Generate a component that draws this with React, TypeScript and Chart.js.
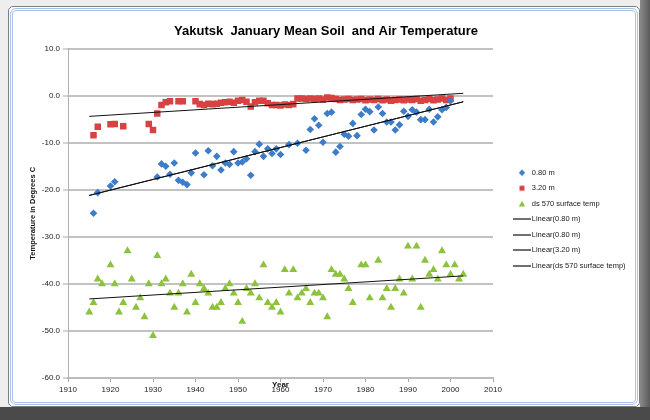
import React, { useEffect, useRef } from "react";
import { Chart, registerables } from "chart.js";

Chart.register(...registerables);

const TITLE = "Yakutsk  January Mean Soil  and Air Temperature";
const X_TITLE = "Year";
const Y_TITLE = "Temperature in Degrees C";
const SERIES_NAMES = ["0.80 m", "3.20 m", "ds 570 surface temp"];
const TREND_NAMES = ["Linear(0.80 m)", "Linear(0.80 m)", "Linear(3.20 m)", "Linear(ds 570 surface temp)"];

const X_MIN = 1910;
const X_MAX = 2010;
const X_STEP = 10;
const Y_MIN = -60;
const Y_MAX = 10;
const Y_STEP = 10;

const years080 = [1916, 1917, 1920, 1921, 1931, 1932, 1933, 1934, 1935, 1936, 1937, 1938, 1939, 1940, 1942, 1943, 1944, 1945, 1946, 1947, 1948, 1949, 1950, 1951, 1952, 1953, 1954, 1955, 1956, 1957, 1958, 1959, 1960, 1962, 1964, 1966, 1967, 1968, 1969, 1970, 1971, 1972, 1973, 1974, 1975, 1976, 1977, 1978, 1979, 1980, 1981, 1982, 1983, 1984, 1985, 1986, 1987, 1988, 1989, 1990, 1991, 1992, 1993, 1994, 1995, 1996, 1997, 1998, 1999, 2000];
const temp080 = [-25.0, -20.6, -19.2, -18.3, -17.3, -14.5, -15.0, -16.7, -14.3, -18.0, -18.4, -18.9, -16.4, -12.2, -16.8, -11.7, -14.9, -12.9, -15.8, -14.3, -14.6, -11.9, -14.3, -14.1, -13.4, -16.9, -11.9, -10.3, -12.9, -11.3, -12.3, -11.3, -12.5, -10.4, -10.1, -11.6, -7.2, -4.9, -6.3, -9.9, -3.8, -3.5, -12.0, -10.8, -8.2, -8.6, -5.9, -8.5, -4.0, -2.9, -3.4, -7.3, -2.4, -3.8, -5.6, -5.6, -7.3, -6.2, -3.3, -4.4, -3.0, -3.5, -5.1, -5.1, -2.9, -5.6, -4.5, -3.0, -2.5, -1.1];

const years320 = [1916, 1917, 1920, 1921, 1923, 1929, 1930, 1931, 1932, 1933, 1934, 1936, 1937, 1940, 1941, 1942, 1943, 1944, 1945, 1946, 1947, 1948, 1949, 1950, 1951, 1952, 1953, 1954, 1955, 1956, 1957, 1958, 1959, 1960, 1961, 1962, 1963, 1964, 1965, 1966, 1967, 1968, 1969, 1970, 1971, 1972, 1973, 1974, 1975, 1976, 1977, 1978, 1979, 1980, 1981, 1982, 1983, 1984, 1985, 1986, 1987, 1988, 1989, 1990, 1991, 1992, 1993, 1994, 1995, 1996, 1997, 1998, 1999, 2000];
const temp320 = [-8.4, -6.6, -6.1, -6.0, -6.5, -6.0, -7.3, -3.8, -2.0, -1.4, -1.2, -1.2, -1.2, -1.2, -1.8, -2.0, -1.7, -1.8, -1.7, -1.5, -1.4, -1.3, -1.5, -1.1, -0.9, -1.3, -2.3, -1.4, -1.1, -1.1, -1.6, -2.0, -2.0, -2.1, -1.9, -2.0, -1.8, -0.6, -0.6, -0.7, -0.6, -0.7, -0.6, -0.8, -0.4, -0.5, -0.7, -0.9, -0.8, -0.7, -0.9, -0.8, -0.7, -1.0, -0.8, -0.9, -0.7, -1.0, -0.8, -1.1, -0.9, -0.8, -1.0, -0.8, -0.9, -0.7, -1.1, -0.9, -0.7, -1.0, -0.8, -0.6, -0.9, -0.6];

const yearsSurf = [1915, 1916, 1917, 1918, 1920, 1921, 1922, 1923, 1924, 1925, 1926, 1927, 1928, 1929, 1930, 1931, 1932, 1933, 1934, 1935, 1936, 1937, 1938, 1939, 1940, 1941, 1942, 1943, 1944, 1945, 1946, 1947, 1948, 1949, 1950, 1951, 1952, 1953, 1954, 1955, 1956, 1957, 1958, 1959, 1960, 1961, 1962, 1963, 1964, 1965, 1966, 1967, 1968, 1969, 1970, 1971, 1972, 1973, 1974, 1975, 1976, 1977, 1979, 1980, 1981, 1983, 1984, 1985, 1986, 1987, 1988, 1989, 1990, 1991, 1992, 1993, 1994, 1995, 1996, 1997, 1998, 1999, 2000, 2001, 2002, 2003];
const tempSurf = [-46, -44, -39, -40, -36, -40, -46, -44, -33, -39, -45, -43, -47, -40, -51, -34, -40, -39, -42, -45, -42, -40, -46, -38, -44, -40, -41, -42, -45, -45, -44, -41, -40, -42, -44, -48, -41, -42, -40, -43, -36, -44, -45, -44, -46, -37, -42, -37, -43, -42, -41, -44, -42, -42, -43, -47, -37, -38, -38, -39, -41, -44, -36, -36, -43, -35, -43, -41, -45, -41, -39, -42, -32, -39, -32, -45, -35, -38, -37, -39, -33, -36, -38, -36, -39, -38];

// Trendline end points
const trendYears = [1915, 2003];
const trend080 = [-21.2, -1.3];
const trend320 = [-4.4, 0.5];
const trendSurf = [-43.2, -38.3];

const BLUE = "#3d7cc9";
const RED = "#d94242";
const GREEN = "#8cc23e";
const FONT = "'Liberation Sans', Arial, sans-serif";

const PLOT_LEFT = 68;
const PLOT_RIGHT = 493;
const X_AXIS_BOX = 42;
const LEGEND_LEFT = 508;
const LEGEND_TOP = 161;
const TITLE_CENTER = 326;

function icon(kind: string, color: string): HTMLCanvasElement {
  const c = document.createElement("canvas");
  const g = c.getContext("2d") as CanvasRenderingContext2D;
  if (kind === "line") {
    c.width = 18;
    c.height = 2;
    g.fillStyle = color;
    g.fillRect(0, 0, 18, 2);
    return c;
  }
  c.width = 8;
  c.height = 8;
  g.fillStyle = color;
  g.beginPath();
  if (kind === "diamond") {
    g.moveTo(4, 0.8);
    g.lineTo(7.2, 4);
    g.lineTo(4, 7.2);
    g.lineTo(0.8, 4);
  } else if (kind === "square") {
    g.rect(1.5, 1.5, 5, 5);
  } else {
    g.moveTo(4, 1);
    g.lineTo(7.2, 6.8);
    g.lineTo(0.8, 6.8);
  }
  g.closePath();
  g.fill();
  return c;
}

const pts = (xs: number[], ys: number[]) => xs.map((x, i) => ({ x, y: ys[i] }));

export default function App() {
  const ref = useRef<HTMLCanvasElement | null>(null);

  useEffect(() => {
    if (!ref.current) return;
    const trend = (label: string, ys: number[]) => ({
      type: "line" as const,
      label,
      data: pts(trendYears, ys),
      borderColor: "#111",
      borderWidth: 1,
      pointRadius: 0,
      showLine: true,
      fill: false,
    });
    const legendIcons = [
      icon("diamond", BLUE),
      icon("square", RED),
      icon("triangle", GREEN),
      icon("line", "#707070"),
    ];
    const boxShift = {
      id: "boxShift",
      afterLayout(chart: any) {
        const lg = chart.legend;
        if (lg) {
          const w = lg.width;
          lg.left = LEGEND_LEFT;
          lg.right = LEGEND_LEFT + w;
          lg.top = LEGEND_TOP;
          lg.bottom = 420;
        }
        const tb = chart.titleBlock;
        if (tb) {
          const half = 300;
          tb.left = TITLE_CENTER - half;
          tb.right = TITLE_CENTER + half;
          tb.width = half * 2;
        }
      },
    };
    const options: any = {
      responsive: false,
      animation: false,
      events: [],
      layout: { padding: { top: 0, left: 0, right: 40, bottom: 0 } },
      plugins: {
        tooltip: { enabled: false },
        title: {
          display: true,
          text: TITLE,
          color: "#000",
          font: { family: FONT, size: 13, weight: "bold" },
          padding: { top: 24, bottom: 9 },
        },
        legend: {
          display: true,
          position: "right",
          align: "start",
          labels: {
            usePointStyle: true,
            pointStyleWidth: 12,
            boxHeight: 7.5,
            padding: 8,
            color: "#1a1a1a",
            font: { family: FONT, size: 7.5 },
            generateLabels: () => {
              const names = [...SERIES_NAMES, ...TREND_NAMES];
              return names.map((text, i) => ({
                text,
                pointStyle: legendIcons[Math.min(i, 3)],
                fillStyle: "#000",
                strokeStyle: "#000",
                lineWidth: 0,
                hidden: false,
                fontColor: "#1a1a1a",
                datasetIndex: i,
              }));
            },
          },
        },
      },
      scales: {
        x: {
          type: "linear",
          min: X_MIN,
          max: X_MAX,
          afterFit: (s: any) => {
            s.height = X_AXIS_BOX;
          },
          ticks: {
            stepSize: X_STEP,
            autoSkip: false,
            maxRotation: 0,
            padding: 3,
            color: "#222",
            font: { family: FONT, size: 8 },
            callback: (v: any) => String(v),
          },
          grid: {
            display: true,
            drawOnChartArea: false,
            drawTicks: true,
            tickLength: 4,
            color: "#a8a8a8",
          },
          border: { display: true, color: "#bcbcbc", width: 2 },
          title: {
            display: true,
            text: X_TITLE,
            color: "#111",
            font: { family: FONT, size: 8, weight: "bold" },
            padding: { top: 0, bottom: 30 },
          },
        },
        y: {
          type: "linear",
          min: Y_MIN,
          max: Y_MAX,
          afterFit: (s: any) => {
            s.width = PLOT_LEFT;
          },
          ticks: {
            stepSize: Y_STEP,
            padding: 3,
            color: "#222",
            font: { family: FONT, size: 8 },
            callback: (v: any) => Number(v).toFixed(1),
          },
          grid: {
            color: "#c2c2c2",
            lineWidth: 2,
            tickLength: 5,
            tickColor: "#a8a8a8",
            tickWidth: 1,
          },
          border: { display: true, color: "#b0b0b0", width: 1 },
          title: {
            display: true,
            text: Y_TITLE,
            color: "#111",
            font: { family: FONT, size: 7.5, weight: "bold" },
            padding: { top: 28, bottom: 0 },
          },
        },
      },
    };
    const chart = new Chart(ref.current, {
      type: "scatter",
      data: {
        datasets: [
          trend(TREND_NAMES[0], trend080),
          trend(TREND_NAMES[1], trend080),
          trend(TREND_NAMES[2], trend320),
          trend(TREND_NAMES[3], trendSurf),
          {
            label: SERIES_NAMES[0],
            data: pts(years080, temp080),
            pointStyle: "rectRot",
            pointRadius: 3.8,
            backgroundColor: BLUE,
            borderColor: BLUE,
            pointBorderWidth: 0,
          },
          {
            label: SERIES_NAMES[1],
            data: pts(years320, temp320),
            pointStyle: "rect",
            pointRadius: 4.6,
            backgroundColor: RED,
            borderColor: RED,
            pointBorderWidth: 0,
          },
          {
            label: SERIES_NAMES[2],
            data: pts(yearsSurf, tempSurf),
            pointStyle: "triangle",
            pointRadius: 4.6,
            backgroundColor: GREEN,
            borderColor: GREEN,
            pointBorderWidth: 0,
          },
        ] as any,
      },
      options,
      plugins: [boxShift],
    });
    const diff = chart.chartArea.right - PLOT_RIGHT;
    if (Math.abs(diff) > 0.4) {
      options.layout.padding.right += diff;
      chart.update();
    }
    return () => chart.destroy();
  }, []);

  return (
    <div style={{ position: "relative", width: 650, height: 420, background: "#eeeeee", overflow: "hidden" }}>
      <style>{"body{margin:0;}"}</style>
      <div
        style={{
          position: "absolute",
          left: 8,
          top: 6,
          width: 632,
          height: 401,
          boxSizing: "border-box",
          border: "1px solid #7d7d7d",
          borderRadius: 5,
          background: "#ffffff",
        }}
      >
        <div
          style={{
            position: "absolute",
            left: 1,
            top: 1,
            right: 1,
            bottom: 1,
            border: "3px double #a9c3e6",
            borderRadius: 6,
          }}
        />
      </div>
      <div style={{ position: "absolute", left: 0, top: 407, width: 650, height: 13, background: "#4a4a4a" }} />
      <div style={{ position: "absolute", left: 640, top: 0, width: 10, height: 407, background: "linear-gradient(90deg,#8a8a8a,#5a5a5a)" }} />
      <canvas ref={ref} width={650} height={420} style={{ position: "absolute", left: 0, top: 0, display: "block" }} />
    </div>
  );
}
